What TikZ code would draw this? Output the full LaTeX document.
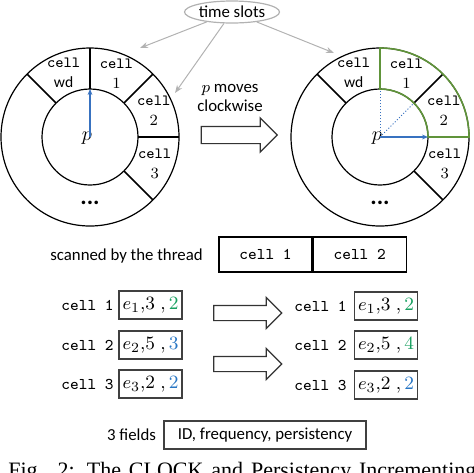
\documentclass[tikz,border=0pt]{standalone}
\usepackage{fontspec}
\newfontfamily\calib{Carlito}
\newfontfamily\capserif{Liberation Serif}
\usetikzlibrary{arrows.meta,positioning,shapes.geometric,shapes.arrows}
\definecolor{ptrblue}{RGB}{56,114,192}
\definecolor{ringgreen}{RGB}{96,148,58}
\definecolor{numgreen}{RGB}{24,160,96}
\definecolor{numblue}{RGB}{40,118,196}
\tikzset{
  ring/.style={draw=black, line width=0.6pt},
  divider/.style={draw=black, line width=0.8pt},
  slot/.style={align=center, inner sep=0pt, font=\fontsize{7.8}{10}\selectfont},
  note/.style={inner sep=0pt, align=center, font=\calib\fontsize{8.4}{9.5}\selectfont},
  entry/.style={rectangle, draw=black!75, line width=0.6pt, minimum width=31.5pt,
    minimum height=14pt, inner sep=0pt, font=\fontsize{9.4}{10}\selectfont},
  tag/.style={inner sep=0pt, font=\ttfamily\fontsize{8.2}{10}\selectfont},
  hollow/.style={single arrow, draw=black!80, line width=0.6pt, fill=white, inner xsep=0pt},
  hint/.style={-{Stealth[length=4pt,width=3pt]}, draw=black!30, line width=0.5pt},
  pointer/.style={-{Stealth[length=3pt,width=2.4pt]}, draw=ptrblue, line width=0.8pt},
}

\begin{document}
\begin{tikzpicture}[x=0.5pt, y=0.5pt]
  \useasboundingbox (0,0) rectangle (474,-472);

  % the two clocks
  \coordinate (lc) at (90,-137);
  \coordinate (rc) at (380,-137);
  \foreach \c in {lc,rc} {
    \draw[ring] (\c) circle[radius=89];
    \draw[ring] (\c) circle[radius=48];
    \begin{scope}[shift={(\c)}]
      \foreach \a in {135,90,45,0,-45}
        \draw[divider] (\a:48) -- (\a:89);
      \coordinate (\c top) at (90:48);
      \coordinate (\c diag) at (45:48);
      \coordinate (\c east) at (0:48);
      \node[slot] (\c wd) at (112.5:69) {\texttt{cell}\\{\calib wd}};
      \node[slot] (\c one) at (67.5:69) {\texttt{cell}\\1};
      \node[slot] (\c two) at (22.5:69) {\texttt{cell}\\2};
      \node[slot] (\c three) at (-22.5:70) {\texttt{cell}\\3};
      \node[font=\calib\bfseries\fontsize{12}{12}\selectfont, inner sep=0pt] (\c dots) at (270:66) {...};
      \node[inner sep=0pt] (\c p) at (-3,-1) {$p$};
    \end{scope}
  }

  % cells 1 and 2 after the move
  \begin{scope}[shift={(rc)}]
    \draw[ringgreen, line width=0.8pt] (90:48) -- (90:89) arc[start angle=90, end angle=0, radius=89]
      -- (0:48) arc[start angle=0, end angle=90, radius=48] -- cycle;
  \end{scope}
  \draw[pointer] (lc) -- (lctop);
  \draw[ptrblue, densely dotted, line width=0.5pt] (rc) -- (rctop);
  \draw[ptrblue, densely dotted, line width=0.5pt] (rc) -- (rcdiag);
  \draw[pointer] (rc) -- (rceast);

  % time slots
  \node[ellipse, draw=black!30, line width=0.6pt, minimum width=47.5pt, minimum height=11pt,
    inner sep=0pt, font=\calib\fontsize{8.4}{10}\selectfont] (slots) at (232,-12) {time slots};
  \coordinate (hintwd) at (140,-48);
  \coordinate (hinttwo) at (175,-93);
  \coordinate (hintright) at (334,-53);
  \draw[hint] (slots) -- (hintwd);
  \draw[hint] (slots) -- (hinttwo);
  \draw[hint] (slots) -- (hintright);

  \node[note] (moves) at (230,-98) {$p$ moves\\clockwise};
  \node[hollow, minimum height=38pt, inner ysep=4pt, single arrow head extend=4.25pt] (move) at (235,-135) {};

  % scanned cells
  \node[note] (scanlbl) at (126.5,-256) {scanned by the thread};
  \node[tag, draw, line width=0.6pt, minimum width=46.5pt, minimum height=17.5pt] (scan1) at (265.5,-254.5) {cell 1};
  \node[tag, draw, line width=0.6pt, minimum width=46.5pt, minimum height=17.5pt, right=0pt of scan1] (scan2) {cell 2};

  % fields before and after
  \node[tag] (bl1) at (87.5,-305) {cell 1};
  \node[tag] (bl2) at (87.5,-345) {cell 2};
  \node[tag] (bl3) at (87.5,-384) {cell 3};
  \node[entry] (b1) at (150.5,-305) {$e_1$,3\;,\,\textcolor{numgreen}{2}};
  \node[entry] (b2) at (150.5,-345) {$e_2$,5\;,\,\textcolor{numblue}{3}};
  \node[entry] (b3) at (150.5,-384) {$e_3$,2\;,\,\textcolor{numblue}{2}};

  \node[tag] (al1) at (320.5,-306) {cell 1};
  \node[tag] (al2) at (320.5,-345) {cell 2};
  \node[tag] (al3) at (320.5,-385) {cell 3};
  \node[entry] (a1) at (386,-306) {$e_1$,3\;,\,\textcolor{numgreen}{2}};
  \node[entry] (a2) at (386,-345) {$e_2$,5\;,\,\textcolor{numgreen}{4}};
  \node[entry] (a3) at (386,-385) {$e_3$,2\;,\,\textcolor{numblue}{2}};

  \node[hollow, minimum height=34pt, inner ysep=3.5pt, single arrow head extend=4pt] (upd1) at (244,-313) {};
  \node[hollow, minimum height=34pt, inner ysep=3.5pt, single arrow head extend=4pt] (upd2) at (244,-364) {};

  \node[note] (fieldslbl) at (131.5,-435) {3 fields};
  \node[entry, minimum width=101pt, font=\calib\fontsize{8.4}{10}\selectfont] (fields) at (265,-435) {ID, frequency, persistency};

  % caption, cut by the page edge
  \begin{scope}
    \clip (0,0) rectangle (474,-472);
    \node[anchor=base west, inner sep=0pt, font=\capserif\fontsize{11}{13}\selectfont] (caption) at (8,-477)
      {\makebox[234pt][s]{Fig. 2: The CLOCK and Persistency Incrementing}};
  \end{scope}
\end{tikzpicture}
\end{document}
